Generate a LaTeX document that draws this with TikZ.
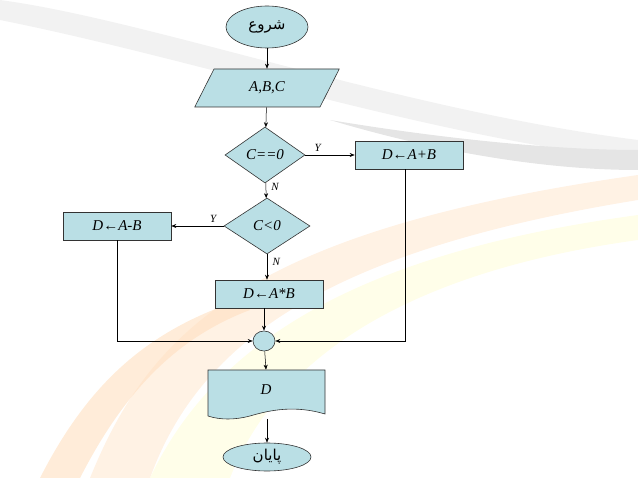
\documentclass[tikz,border=0pt]{standalone}
\usepackage{fontspec}
\setmainfont{Liberation Serif}
\newfontfamily\arabicfont[Script=Arabic]{DejaVu Sans}
\TeXXeTstate=1
\usetikzlibrary{shapes.geometric,arrows.meta}
\definecolor{fc}{RGB}{186,223,229}
\tikzset{
 base/.style={draw=black!80,fill=fc,line width=0.6pt,font=\fontsize{15}{17}\selectfont\itshape,inner sep=0pt},
 proc/.style={base,rectangle,minimum width=108pt,minimum height=28pt},
 dec/.style={base,diamond,aspect=1.45},
 term/.style={base,ellipse},
 arr/.style={-{Stealth[length=5pt,width=4pt]},line width=0.5pt},
 lbl/.style={font=\fontsize{11}{12}\selectfont\itshape}
}
\begin{document}
\begin{tikzpicture}[x=1pt,y=-1pt]
\useasboundingbox (0,0) rectangle (638,478);
% background swoosh
\fill[gray!10] (0,0) .. controls (150,20) and (400,110) .. (638,140) -- (638,160) .. controls (420,135) and (200,60) .. (0,20) -- cycle;
\fill[gray!20] (330,120) .. controls (450,140) and (560,150) .. (638,150) -- (638,170) .. controls (540,170) and (430,150) .. (330,120) -- cycle;
\fill[orange!15,opacity=0.7] (90,478) .. controls (150,330) and (250,230) .. (638,175) -- (638,200) .. controls (330,250) and (200,340) .. (150,478) -- cycle;
\fill[yellow!12,opacity=0.7] (150,478) .. controls (220,330) and (380,250) .. (638,215) -- (638,240) .. controls (420,270) and (280,350) .. (230,478) -- cycle;
\fill[orange!25,opacity=0.6] (40,478) .. controls (90,380) and (150,330) .. (240,300) -- (250,310) .. controls (170,340) and (120,400) .. (80,478) -- cycle;

\node[term,minimum width=82pt,minimum height=42pt] (start) at (267,27) {\arabicfont\upshape\beginR شروع\endR};
\node[base,trapezium,trapezium left angle=62,trapezium right angle=118,minimum width=145pt,minimum height=38pt,trapezium stretches=true] (in) at (267,88) {A,B,C};
\node[dec,minimum width=80pt,minimum height=56pt] (d1) at (265,155) {C==0};
\node[proc] (p1) at (409,155) {D←A+B};
\node[dec,minimum width=86pt,minimum height=56pt] (d2) at (267,226) {C<0};
\node[proc] (p2) at (117,226) {D←A-B};
\node[proc] (p3) at (269,294) {D←A*B};
\node[term,minimum width=22pt,minimum height=20pt] (j) at (264,341) {};
\coordinate (jl) at (117,341);
\coordinate (jr) at (405,341);
\node[base,draw=none,fill=none,minimum width=117pt,minimum height=44pt] (out) at (266,392) {};
\path[base] (208,370) -- (325,370) -- (325,414) .. controls (295,405) and (270,410) .. (250,416) .. controls (235,420) and (220,420) .. (208,416) -- cycle;
\node[font=\fontsize{15}{17}\selectfont\itshape] at (266,390) {D};
\node[term,minimum width=88pt,minimum height=28pt] (end) at (267,457) {\arabicfont\upshape\beginR پایان\endR};

\draw[arr] (start) -- (in);
\draw[arr] (in) -- (d1);
\draw[arr] (d1) -- node[lbl,above,pos=0.25]{Y} (p1);
\draw[arr] (d1) -- node[lbl,right=2pt,pos=0.3]{N} (d2);
\draw[arr] (d2) -- node[lbl,above,pos=0.2]{Y} (p2);
\draw[arr] (d2) -- node[lbl,right=2pt,pos=0.3]{N} (p3.north -| d2);
\draw[arr] (p3.south -| j) -- (j);
\draw[arr] (p2.south) -- (jl) -- (j);
\draw[arr] (p1.south -| jr) -- (jr) -- (j);
\draw[arr] (j) -- (out.north);
\draw[arr] (267,419) -- (end);
\end{tikzpicture}
\end{document}
